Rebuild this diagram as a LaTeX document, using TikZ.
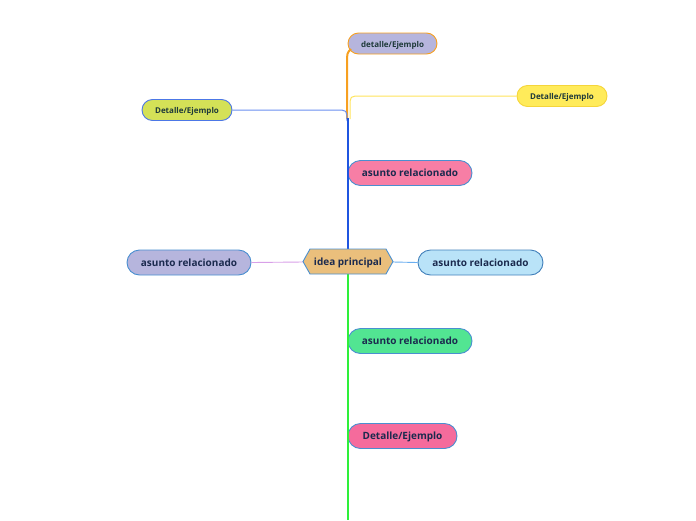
\documentclass[tikz,border=0pt]{standalone}
\usepackage{fontspec}
\setmainfont{Open Sans}
\definecolor{txt}{HTML}{1B2A4E}
\definecolor{txtb}{HTML}{1F3A3A}
\definecolor{bord}{HTML}{4A8FD0}
\definecolor{trunkblue}{HTML}{1F55E0}
\definecolor{thinblue}{HTML}{6A8FF0}
\definecolor{orangeL}{HTML}{F7A020}
\definecolor{yellowL}{HTML}{FFE45A}
\definecolor{greenL}{HTML}{2EF03A}
\definecolor{lilacL}{HTML}{D8A0E8}
\definecolor{lblueL}{HTML}{6AAEF0}
\definecolor{fLav}{HTML}{B6B5DD}
\definecolor{fLime}{HTML}{D4E157}
\definecolor{fYel}{HTML}{FFEB5A}
\definecolor{bYel}{HTML}{F5D53A}
\definecolor{fPink}{HTML}{F77EA5}
\definecolor{fIdea}{HTML}{EABF7C}
\definecolor{fSky}{HTML}{B9E3F8}
\definecolor{fGreen}{HTML}{52E592}
\definecolor{fPink2}{HTML}{F56B9C}
\tikzset{
  pill/.style={rounded corners=12.5pt, draw=bord, line width=0.9pt, minimum height=25pt, inner sep=0pt, text height=0.72em, text depth=0pt, text=txt, font=\fontsize{10}{11}\selectfont\bfseries},
  smallpill/.style={rounded corners=10.5pt, line width=0.9pt, minimum height=21pt, inner sep=0pt, text height=0.72em, text depth=0pt, text=txtb, font=\fontsize{8}{9}\selectfont\bfseries},
}
\begin{document}
\begin{tikzpicture}[x=1pt,y=-1pt]
\useasboundingbox (0,0) rectangle (696,520);
% nodes
\node[smallpill, draw=orangeL, fill=fLav, minimum width=89pt] (top) at (392.5,43.5) {detalle/Ejemplo};
\node[smallpill, draw=trunkblue!80, fill=fLime, minimum width=90pt] (left) at (187,110) {Detalle/Ejemplo};
\node[smallpill, draw=bYel, fill=fYel, minimum width=90pt] (right) at (562,96) {Detalle/Ejemplo};
\node[pill, fill=fPink, minimum width=124pt] (pinkA) at (410,173) {asunto relacionado};
\node[pill, fill=fSky, draw=bord!90!black, minimum width=125pt] (skyA) at (480.5,262.5) {asunto relacionado};
\node[pill, fill=fLav, minimum width=124pt] (lavA) at (189,262.5) {asunto relacionado};
\node[pill, fill=fGreen, minimum width=124pt] (greenA) at (410,341) {asunto relacionado};
\node[pill, fill=fPink2, minimum width=109pt] (pinkD) at (402.5,436) {Detalle/Ejemplo};
\coordinate (bottomEnd) at (348,520);
% connectors
\draw[greenL, line width=2.6pt] (348,274) -- (bottomEnd);
\draw[orangeL, line width=2pt] (351,49) .. controls (347,53) .. (347,64) -- (347,119);
\draw[yellowL, line width=1pt] (right.west) -- (361,96) .. controls (350,96) .. (350,107) -- (350,119);
\draw[thinblue, line width=1pt] (left.east) -- (336,110) .. controls (347,110) .. (347,121);
\draw[trunkblue, line width=2.6pt] (348,249) -- (348,118);
\draw[lilacL, line width=0.9pt] (lavA.east) -- (303,262);
\draw[lblueL, line width=0.9pt] (393,262) -- (skyA.west);
% central hexagon
\draw[fill=fIdea, draw=bord, line width=0.9pt] (303,261.5) -- (310,249) -- (386,249) -- (393,261.5) -- (386,274) -- (310,274) -- cycle;
\node[text=txt, font=\fontsize{10}{11}\selectfont\bfseries, inner sep=0pt, text height=0.72em, text depth=0pt] (idea) at (348,261.5) {idea principal};
\end{tikzpicture}
\end{document}
